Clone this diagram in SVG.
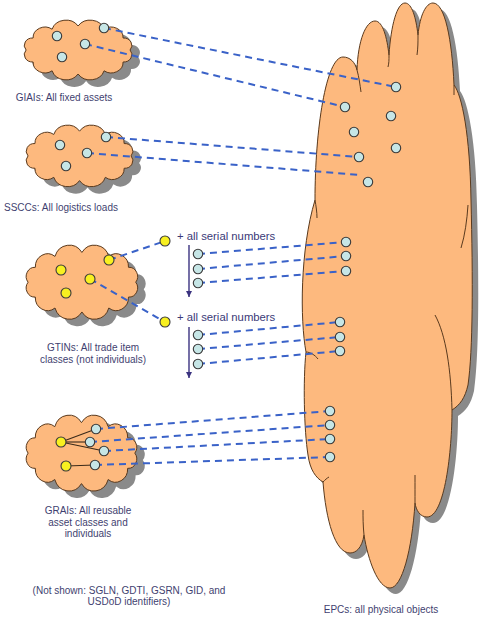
<svg xmlns="http://www.w3.org/2000/svg" width="500" height="625" viewBox="0 0 500 625">
<style>
.cl{fill:#FDB97E;stroke:#5a3a1e;stroke-width:1}
.sh{fill:#8a8a8a;stroke:none}
.cr{fill:none;stroke:#5a3a1e;stroke-width:1}
.c{fill:#C6E6E6;stroke:#3a3a3a;stroke-width:1.1}
.y{fill:#F8F020;stroke:#3a3a3a;stroke-width:1.1}
.d{fill:none;stroke:#3A62C8;stroke-width:2;stroke-dasharray:7,5}
.s{fill:none;stroke:#3a2a1a;stroke-width:1.1}
.ar{fill:none;stroke:#3b3380;stroke-width:1.4}
text{font-family:"Liberation Sans",Arial,sans-serif;font-size:10px;fill:#3f3f70;text-anchor:middle}
.sn{font-size:11.3px;text-anchor:start;fill:#3a3a78}
</style>
<defs>
<path id="cloud" vector-effect="non-scaling-stroke" d="M99,30 A7.4,7.4 0 0 1 92.8,42 A10.5,10.5 0 0 1 76,50.8 A12.8,12.8 0 0 1 53,54 A12.8,12.8 0 0 1 30,50.8 A10.5,10.5 0 0 1 13.2,42 A7.4,7.4 0 0 1 7,30 A7.4,7.4 0 0 1 13.2,18 A10.5,10.5 0 0 1 30,9.2 A12.8,12.8 0 0 1 53,6 A12.8,12.8 0 0 1 76,9.2 A10.5,10.5 0 0 1 92.8,18 A7.4,7.4 0 0 1 99,30 Z"/>
<path id="big" d="M315,200 C315,130 326,57 343,57 C350,57 355,62 357,70 C358,40 366,21 375,21 C383,21 387,38 389,55 C391,25 397,3 405,3 C412,3 416,18 418,35 C420,15 426,3 433,3 C445,3 452,40 454,85 C462,95 470,135 471,200 C473,280 473,350 468,385 C465,398 460,405 452,410 C452,450 445,517 427,517 C420,517 416,510 415,503 C412,550 402,588 390,588 C378,588 368,560 364,535 C362,548 356,553 350,553 C335,553 326,520 323,482 C316,478 310,470 308,455 C304,430 303,380 306,352 C300,320 300,250 315,200 Z"/>
<marker id="ah" viewBox="0 0 10 10" refX="10" refY="5" markerUnits="userSpaceOnUse" markerWidth="6" markerHeight="7" orient="auto"><path d="M0,0 L10,5 L0,10 Z" fill="#3b3380"/></marker>
</defs>

<g id="epc">
<use href="#big" class="sh" transform="translate(6,6)"/>
<use href="#big" class="cl"/>
<path class="cr" d="M315,200 C316,206 317,212 317,218 M357,70 C359,77 360,85 361,92 M389,55 C389,60 389,63 388,67 M418,35 C418,42 418,48 417,55 M454,85 L454,95 M468,205 C467,220 465,235 461,248 M452,410 C451,370 446,335 435,315 M415,503 C415,495 415,485 415,475 M364,535 C363,525 363,518 363,510 M323,482 C325,480 327,478 329,477 M306,352 C310,352 315,355 318,359"/>
<text x="381" y="613">EPCs: all physical objects</text>
</g>

<g id="giai">
<use href="#cloud" class="sh" transform="translate(26.2,27) scale(1.13,1)"/>
<use href="#cloud" class="cl" transform="translate(18.2,20) scale(1.13,1)"/>
<text x="64" y="101">GIAIs: All fixed assets</text>
</g>

<g id="sscc">
<use href="#cloud" class="sh" transform="translate(28.2,132) scale(1.12,1.03)"/>
<use href="#cloud" class="cl" transform="translate(20.2,125) scale(1.12,1.03)"/>
<text x="61" y="211">SSCCs: All logistics loads</text>
</g>

<g id="gtin">
<use href="#cloud" class="sh" transform="translate(27.9,252) scale(1.17,1.24)"/>
<use href="#cloud" class="cl" transform="translate(19.9,245) scale(1.17,1.24)"/>
<text x="93" y="351">GTINs: All trade item</text>
<text x="93" y="362.5">classes (not individuals)</text>
</g>

<g id="grai">
<use href="#cloud" class="sh" transform="translate(28,422) scale(1.16,1.27)"/>
<use href="#cloud" class="cl" transform="translate(20,415) scale(1.16,1.27)"/>
<text x="88" y="514">GRAIs: All reusable</text>
<text x="88" y="525.5">asset classes and</text>
<text x="88" y="537">individuals</text>
</g>

<g id="serials">
<text class="sn" x="177" y="240">+ all serial numbers</text>
<text class="sn" x="177" y="321">+ all serial numbers</text>
<line class="ar" x1="189" y1="245" x2="189" y2="297" marker-end="url(#ah)"/>
<line class="ar" x1="189" y1="327" x2="189" y2="378" marker-end="url(#ah)"/>
</g>

<text x="129" y="594">(Not shown: SGLN, GDTI, GSRN, GID, and</text>
<text x="129" y="605">USDoD identifiers)</text>

<g id="connectors">
<line class="d" x1="104" y1="28" x2="396" y2="87"/>
<line class="d" x1="85" y1="44" x2="345" y2="107"/>
<line class="d" x1="106" y1="137" x2="359" y2="157"/>
<line class="d" x1="87" y1="153" x2="361" y2="175"/>
<line class="d" x1="109" y1="260" x2="165" y2="241"/>
<line class="d" x1="90" y1="279" x2="165" y2="322"/>
<line class="d" x1="198" y1="254" x2="346" y2="242"/>
<line class="d" x1="198" y1="269" x2="346" y2="256"/>
<line class="d" x1="198" y1="283" x2="346" y2="271"/>
<line class="d" x1="198" y1="335" x2="340" y2="322"/>
<line class="d" x1="198" y1="349" x2="340" y2="337"/>
<line class="d" x1="198" y1="364" x2="340" y2="351"/>
<line class="d" x1="96" y1="429" x2="330" y2="411"/>
<line class="d" x1="90" y1="442" x2="330" y2="425"/>
<line class="d" x1="104" y1="451" x2="330" y2="439"/>
<line class="d" x1="95" y1="465" x2="330" y2="457"/>
<line class="s" x1="61" y1="442" x2="96" y2="429"/>
<line class="s" x1="61" y1="442" x2="90" y2="442"/>
<line class="s" x1="61" y1="442" x2="104" y2="451"/>
<line class="s" x1="66" y1="466" x2="95" y2="465"/>
</g>

<g id="giai-points">
<circle class="c" cx="57" cy="36" r="4.7"/>
<circle class="c" cx="62" cy="57" r="4.7"/>
<circle class="c" cx="85" cy="44" r="4.7"/>
<circle class="c" cx="104" cy="28" r="4.7"/>
</g>
<g id="sscc-points">
<circle class="c" cx="60" cy="145" r="4.7"/>
<circle class="c" cx="66" cy="166" r="4.7"/>
<circle class="c" cx="87" cy="153" r="4.7"/>
<circle class="c" cx="106" cy="137" r="4.7"/>
</g>
<g id="gtin-points">
<circle class="y" cx="61" cy="270" r="5"/>
<circle class="y" cx="66" cy="293" r="5"/>
<circle class="y" cx="90" cy="279" r="5"/>
<circle class="y" cx="109" cy="260" r="5"/>
<circle class="y" cx="165" cy="241" r="5"/>
<circle class="y" cx="165" cy="322" r="5"/>
<circle class="c" cx="198" cy="254" r="4.7"/>
<circle class="c" cx="198" cy="269" r="4.7"/>
<circle class="c" cx="198" cy="283" r="4.7"/>
<circle class="c" cx="198" cy="335" r="4.7"/>
<circle class="c" cx="198" cy="349" r="4.7"/>
<circle class="c" cx="198" cy="364" r="4.7"/>
</g>
<g id="grai-points">
<circle class="y" cx="61" cy="442" r="5"/>
<circle class="y" cx="66" cy="466" r="5"/>
<circle class="c" cx="96" cy="429" r="4.7"/>
<circle class="c" cx="90" cy="442" r="4.7"/>
<circle class="c" cx="104" cy="451" r="4.7"/>
<circle class="c" cx="95" cy="465" r="4.7"/>
</g>
<g id="epc-points">
<circle class="c" cx="396" cy="87" r="4.7"/>
<circle class="c" cx="345" cy="107" r="4.7"/>
<circle class="c" cx="391" cy="116" r="4.7"/>
<circle class="c" cx="354" cy="132" r="4.7"/>
<circle class="c" cx="396" cy="148" r="4.7"/>
<circle class="c" cx="359" cy="157" r="4.7"/>
<circle class="c" cx="368" cy="182" r="4.7"/>
<circle class="c" cx="346" cy="242" r="4.7"/>
<circle class="c" cx="346" cy="256" r="4.7"/>
<circle class="c" cx="346" cy="271" r="4.7"/>
<circle class="c" cx="340" cy="322" r="4.7"/>
<circle class="c" cx="340" cy="337" r="4.7"/>
<circle class="c" cx="340" cy="351" r="4.7"/>
<circle class="c" cx="330" cy="411" r="4.7"/>
<circle class="c" cx="330" cy="425" r="4.7"/>
<circle class="c" cx="330" cy="439" r="4.7"/>
<circle class="c" cx="330" cy="457" r="4.7"/>
</g>
</svg>
